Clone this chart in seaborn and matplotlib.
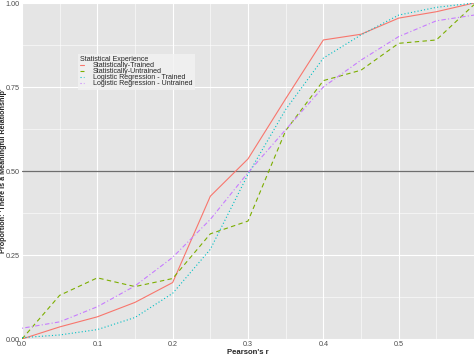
import numpy as np
import pandas as pd
import matplotlib
matplotlib.use("Agg")
import matplotlib.pyplot as plt
import seaborn as sns
from matplotlib.ticker import MultipleLocator
from matplotlib.lines import Line2D

r_values = [0.0, 0.05, 0.1, 0.15, 0.2, 0.25, 0.3, 0.35, 0.4, 0.45, 0.5, 0.55, 0.6]
stat_trained = [0.00, 0.036, 0.066, 0.109, 0.168, 0.425, 0.536, 0.715, 0.89, 0.907, 0.955, 0.974, 1.00]
stat_untrained = [0.00, 0.13, 0.182, 0.156, 0.18, 0.313, 0.351, 0.62, 0.769, 0.80, 0.88, 0.89, 0.995]
logreg_trained = [0.004, 0.012, 0.028, 0.064, 0.136, 0.267, 0.49, 0.683, 0.836, 0.905, 0.964, 0.987, 1.00]
logreg_untrained = [0.032, 0.051, 0.096, 0.158, 0.243, 0.356, 0.495, 0.623, 0.75, 0.83, 0.90, 0.947, 0.964]

groups = ["Statistically-Trained", "Statistically-Untrained",
          "Logistic Regression - Trained", "Logistic Regression - Untrained"]
series = [stat_trained, stat_untrained, logreg_trained, logreg_untrained]
colors = ["#F8766D", "#7CAE00", "#00BFC4", "#C77CFF"]
dashes = [(None, None), (4, 3), (1, 2), (1, 2, 4, 2)]

df = pd.DataFrame({
    "r": np.tile(r_values, len(groups)),
    "p": np.concatenate(series),
    "group": np.repeat(groups, len(r_values)),
})

sns.set_theme(style="darkgrid")
plt.rcParams["font.family"] = ["Liberation Sans", "DejaVu Sans"]

fig = plt.figure(figsize=(4.74, 3.55), dpi=100)
ax = fig.add_axes([22 / 474, 16 / 355, 452 / 474, 336 / 355])
ax.set_facecolor("#E5E5E5")

for g, c, d in zip(groups, colors, dashes):
    sub = df[df["group"] == g]
    sns.lineplot(data=sub, x="r", y="p", ax=ax, color=c, linewidth=0.8, legend=False)
    ln = ax.lines[-1]
    if d[0] is not None:
        ln.set_dashes(d)

ax.axhline(0.5, color="#6e6e6e", linewidth=0.9, zorder=1)

ax.set_xlim(0, 0.6)
ax.set_ylim(0, 1)
ax.xaxis.set_minor_locator(MultipleLocator(0.05))
ax.yaxis.set_minor_locator(MultipleLocator(0.125))
ax.set_xticks([0, 0.1, 0.2, 0.3, 0.4, 0.5])
ax.set_xticklabels(["0.0", "0.1", "0.2", "0.3", "0.4", "0.5"])
ax.set_yticks([0, 0.25, 0.5, 0.75, 1.0])
ax.set_yticklabels(["0.00", "0.25", "0.50", "0.75", "1.00"])
ax.grid(which="major", color="white", linewidth=0.8)
ax.grid(which="minor", color="white", linewidth=0.4)
ax.set_axisbelow(True)
for s in ax.spines.values():
    s.set_visible(False)
ax.tick_params(axis="both", which="major", labelsize=5.2, colors="#4d4d4d",
               length=1.2, width=0.5, pad=0.4, labelcolor="#4d4d4d")
ax.tick_params(axis="both", which="minor", length=0)
ax.set_xlabel("Pearson's r", fontsize=5.6, fontweight="bold")
ax.set_ylabel("Proportion: 'There is a Meaningful Relationship'", fontsize=5.2,
              fontweight="bold")
ax.xaxis.set_label_coords(0.5, -9.5 / 336)
ax.yaxis.set_label_coords(-15 / 452, 0.5)

handles = [Line2D([0], [0], color=c, linewidth=0.8, dashes=d if d[0] is not None else (None, None))
           for c, d in zip(colors, dashes)]
leg = ax.legend(handles, groups, title="Statistical Experience", loc="upper left",
                bbox_to_anchor=(56 / 452, 1 - 51 / 336), fontsize=5.1, title_fontsize=5.1,
                frameon=True, fancybox=False, handlelength=0.5, handletextpad=1.2,
                labelspacing=-0.15, borderpad=0.35, borderaxespad=0)
leg.get_frame().set_facecolor("#F2F2F2")
leg.get_frame().set_edgecolor("none")
leg._legend_box.align = "left"

fig.savefig("out.png", dpi=100)
